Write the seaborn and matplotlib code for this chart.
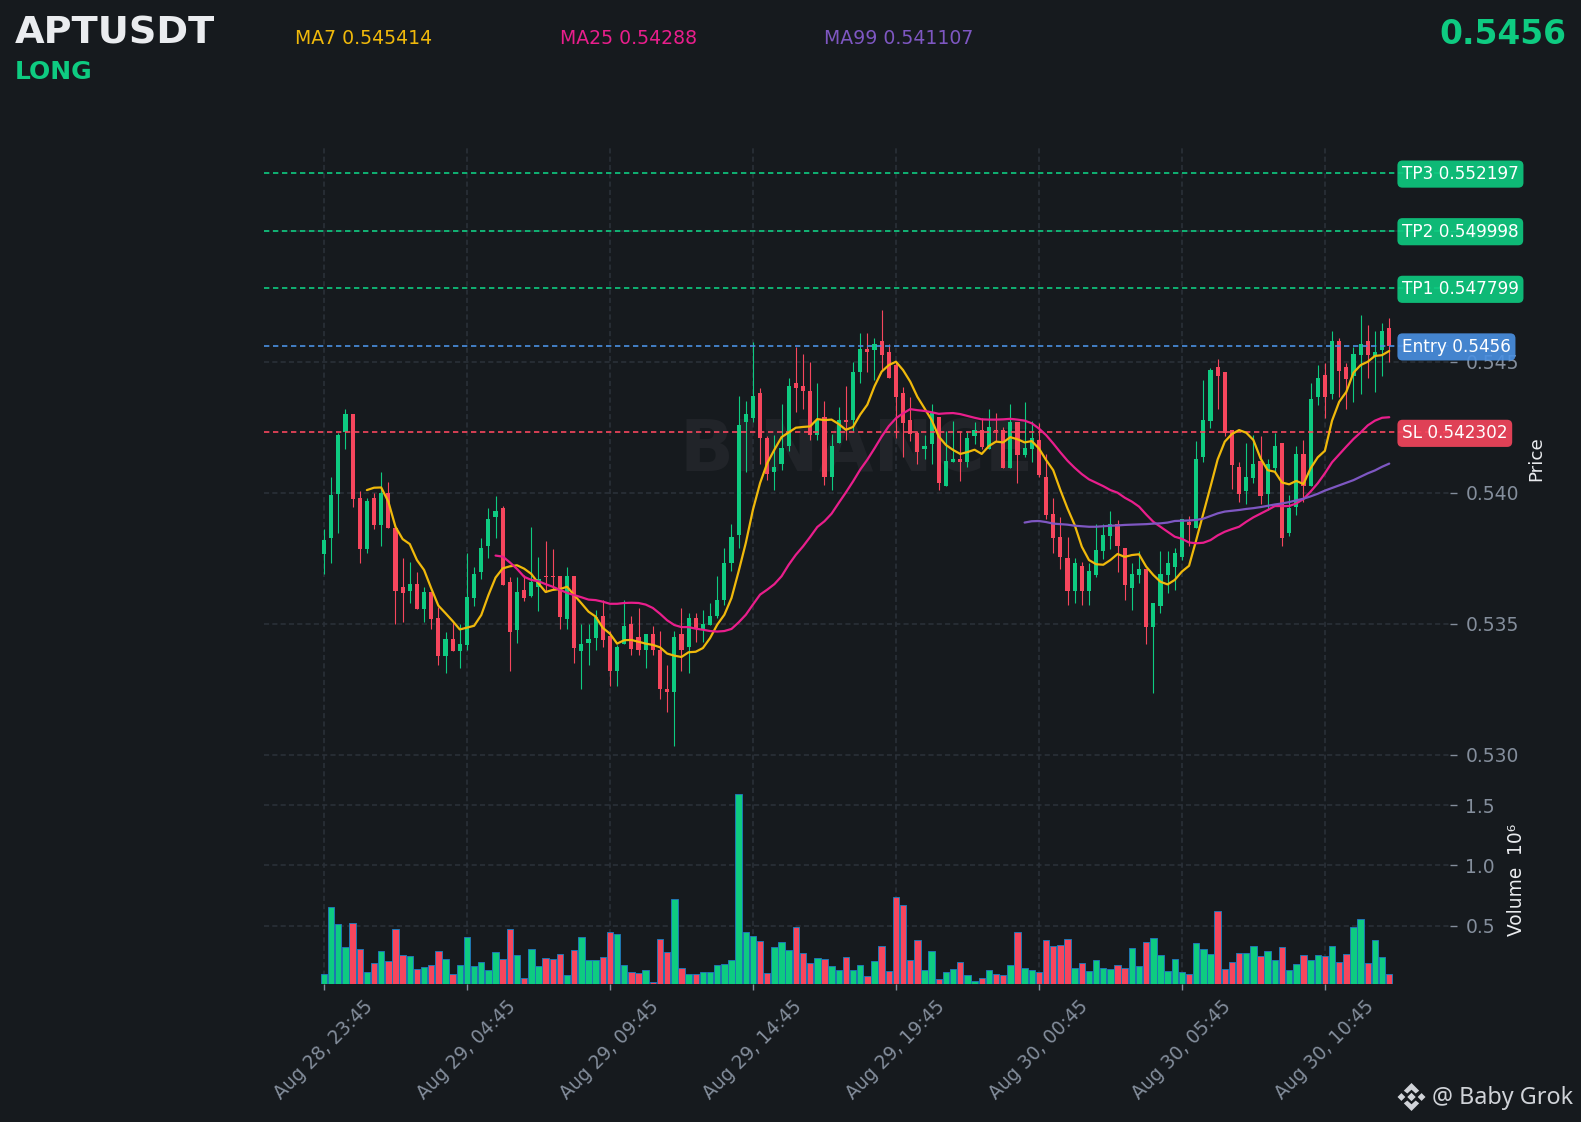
import matplotlib
matplotlib.use("Agg")
import matplotlib.pyplot as plt
from matplotlib.patches import Polygon
from matplotlib.transforms import blended_transform_factory
import numpy as np
import pandas as pd
import seaborn as sns

# prices are in units of 1e-5 USDT, volume in millions
open_px = [53767, 53828, 53996, 54232, 54300, 53980, 53786, 53980, 53878, 53999,
           53866, 53640, 53626, 53651, 53557, 53621, 53522, 53378, 53442, 53397,
           53420, 53599, 53699, 53798, 53908, 53941, 53659, 53477, 53629, 53607,
           53641, 53681, 53681, 53682, 53519, 53682, 53397, 53428, 53447, 53531,
           53452, 53318, 53421, 53500, 53450, 53398, 53462, 53401, 53252, 53238,
           53462, 53410, 53522, 53481, 53496, 53528, 53589, 53730, 53837, 54268,
           54287, 54382, 54210, 54078, 54108, 54177, 54420, 54408, 54389, 54219,
           54289, 54059, 54188, 54279, 54276, 54459, 54549, 54546, 54579, 54537,
           54487, 54379, 54277, 54226, 54167, 54186, 54290, 54027, 54118, 54128,
           54117, 54218, 54239, 54167, 54239, 54239, 54095, 54270, 54144, 54168,
           54201, 54060, 53919, 53831, 53751, 53625, 53720, 53625, 53686, 53779,
           53836, 53880, 53789, 53637, 53686, 53707, 53489, 53569, 53686, 53716,
           53755, 53889, 53866, 54137, 54275, 54480, 54460, 54239, 54098, 54006,
           54057, 54121, 53996, 54094, 54190, 53847, 53945, 54148, 54027, 54365,
           54449, 54377, 54579, 54480, 54445, 54525, 54579, 54522, 54544, 54627]
high_px = [53860, 54059, 54226, 54319, 54300, 54008, 53978, 53997, 54078, 54039,
           53877, 53749, 53737, 53699, 53639, 53621, 53565, 53470, 53505, 53498,
           53768, 53718, 53828, 53940, 53989, 53949, 53679, 53679, 53686, 53868,
           53756, 53817, 53786, 53682, 53718, 53682, 53498, 53498, 53552, 53589,
           53471, 53420, 53589, 53528, 53560, 53462, 53490, 53471, 53344, 53471,
           53560, 53541, 53541, 53551, 53579, 53681, 53789, 53879, 54370, 54349,
           54577, 54398, 54215, 54220, 54338, 54438, 54558, 54530, 54499, 54418,
           54350, 54225, 54329, 54408, 54499, 54609, 54609, 54590, 54697, 54567,
           54500, 54404, 54366, 54237, 54220, 54337, 54290, 54237, 54275, 54237,
           54237, 54268, 54287, 54318, 54305, 54249, 54337, 54270, 54347, 54275,
           54267, 54146, 53978, 53908, 53830, 53749, 53737, 53730, 53880, 53880,
           53929, 53896, 53789, 53730, 53779, 53707, 53578, 53779, 53779, 53788,
           53900, 53911, 54198, 54430, 54477, 54509, 54460, 54239, 54118, 54188,
           54220, 54218, 54128, 54226, 54190, 53990, 54178, 54201, 54417, 54486,
           54496, 54616, 54589, 54496, 54557, 54678, 54639, 54616, 54646, 54665]
low_px = [53688, 53730, 53847, 54168, 53947, 53730, 53768, 53860, 53798, 53866,
          53498, 53508, 53578, 53557, 53508, 53478, 53341, 53311, 53396, 53330,
          53398, 53569, 53669, 53749, 53828, 53648, 53318, 53428, 53588, 53601,
          53550, 53622, 53629, 53478, 53478, 53349, 53250, 53341, 53398, 53411,
          53261, 53261, 53421, 53379, 53379, 53331, 53379, 53213, 53163, 53032,
          53318, 53312, 53430, 53430, 53496, 53522, 53570, 53700, 53789, 54079,
          54268, 54109, 54047, 54009, 54088, 54158, 54308, 54319, 54202, 54200,
          54028, 54009, 54188, 54200, 54234, 54418, 54459, 54429, 54468, 54436,
          54207, 54137, 54198, 54108, 54127, 54108, 54009, 54027, 54118, 54046,
          54097, 54186, 54167, 54167, 54195, 54095, 54095, 54038, 54137, 54118,
          54059, 53898, 53768, 53707, 53570, 53578, 53570, 53570, 53679, 53748,
          53786, 53699, 53589, 53551, 53657, 53421, 53237, 53540, 53618, 53629,
          53743, 53798, 53866, 54118, 54248, 54318, 54218, 54014, 53966, 53958,
          54038, 53958, 53934, 54074, 53798, 53836, 53915, 53966, 54027, 54335,
          54287, 54356, 54366, 54318, 54347, 54377, 54436, 54385, 54446, 54497]
close_px = [53819, 53991, 54220, 54300, 53977, 53786, 53968, 53878, 53999, 53866,
            53626, 53618, 53651, 53557, 53621, 53519, 53378, 53440, 53397, 53423,
            53601, 53690, 53789, 53900, 53930, 53649, 53470, 53621, 53598, 53659,
            53669, 53678, 53678, 53527, 53682, 53409, 53423, 53442, 53527, 53439,
            53318, 53412, 53492, 53405, 53398, 53462, 53398, 53250, 53238, 53450,
            53398, 53522, 53481, 53500, 53531, 53592, 53733, 53832, 54259, 54301,
            54370, 54207, 54070, 54099, 54172, 54408, 54398, 54387, 54219, 54279,
            54059, 54179, 54279, 54268, 54462, 54549, 54536, 54569, 54525, 54436,
            54366, 54267, 54224, 54156, 54179, 54309, 54038, 54121, 54128, 54118,
            54209, 54239, 54174, 54251, 54236, 54095, 54270, 54144, 54170, 54209,
            54067, 53915, 53828, 53756, 53625, 53730, 53625, 53701, 53781, 53838,
            53880, 53796, 53648, 53690, 53707, 53489, 53578, 53690, 53730, 53770,
            53900, 53877, 54128, 54277, 54468, 54445, 54226, 54106, 53995, 54060,
            54109, 53989, 54109, 54178, 53828, 53941, 54148, 54027, 54357, 54438,
            54365, 54579, 54466, 54434, 54529, 54567, 54525, 54537, 54617, 54560]
volume_m = [0.097, 0.657, 0.511, 0.320, 0.525, 0.309, 0.113, 0.193, 0.293, 0.210,
            0.475, 0.260, 0.251, 0.144, 0.155, 0.177, 0.293, 0.227, 0.102, 0.177,
            0.409, 0.169, 0.202, 0.135, 0.285, 0.227, 0.475, 0.260, 0.069, 0.309,
            0.169, 0.235, 0.227, 0.268, 0.094, 0.301, 0.409, 0.218, 0.218, 0.243,
            0.450, 0.434, 0.177, 0.119, 0.110, 0.135, 0.036, 0.392, 0.285, 0.718,
            0.152, 0.102, 0.102, 0.119, 0.119, 0.177, 0.185, 0.218, 1.588, 0.450,
            0.417, 0.376, 0.110, 0.326, 0.367, 0.301, 0.492, 0.276, 0.193, 0.235,
            0.227, 0.169, 0.130, 0.243, 0.130, 0.177, 0.086, 0.210, 0.334, 0.127,
            0.735, 0.674, 0.218, 0.384, 0.135, 0.293, 0.061, 0.113, 0.144, 0.202,
            0.094, 0.044, 0.069, 0.135, 0.102, 0.094, 0.177, 0.450, 0.152, 0.135,
            0.119, 0.384, 0.334, 0.343, 0.392, 0.152, 0.193, 0.127, 0.218, 0.152,
            0.144, 0.177, 0.152, 0.318, 0.169, 0.367, 0.401, 0.260, 0.127, 0.227,
            0.119, 0.102, 0.359, 0.309, 0.268, 0.624, 0.144, 0.202, 0.276, 0.276,
            0.334, 0.251, 0.293, 0.218, 0.326, 0.135, 0.185, 0.260, 0.218, 0.260,
            0.251, 0.334, 0.202, 0.268, 0.492, 0.558, 0.193, 0.384, 0.243, 0.102]
ma7 = [54010, 54019, 54020, 53966, 53870, 53823, 53804, 53743, 53705, 53635,
       53569, 53540, 53510, 53478, 53485, 53492, 53533, 53609, 53676, 53711,
       53719, 53723, 53710, 53690, 53654, 53621, 53629, 53632, 53641, 53609,
       53578, 53546, 53527, 53484, 53462, 53424, 53437, 53438, 53431, 53424,
       53419, 53410, 53386, 53378, 53373, 53391, 53393, 53407, 53445, 53496,
       53534, 53598, 53700, 53808, 53935, 54037, 54113, 54164, 54212, 54230,
       54248, 54251, 54253, 54281, 54277, 54279, 54262, 54240, 54251, 54298,
       54336, 54406, 54462, 54487, 54500, 54468, 54424, 54366, 54322, 54277,
       54214, 54182, 54163, 54148, 54155, 54164, 54148, 54178, 54195, 54192,
       54212, 54204, 54192, 54197, 54169, 54125, 54086, 54010, 53940, 53877,
       53794, 53743, 53727, 53725, 53743, 53766, 53755, 53762, 53765, 53718,
       53686, 53660, 53650, 53667, 53699, 53721, 53819, 53921, 54023, 54127,
       54195, 54224, 54239, 54229, 54201, 54131, 54086, 54080, 54039, 54032,
       54045, 54033, 54093, 54135, 54160, 54275, 54347, 54385, 54458, 54487,
       54500, 54522, 54525, 54541]
ma25 = [53760, 53756, 53734, 53709, 53679, 53667, 53662, 53651, 53641, 53629,
        53618, 53609, 53601, 53592, 53590, 53584, 53576, 53576, 53579, 53580,
        53579, 53573, 53560, 53538, 53513, 53495, 53487, 53487, 53481, 53477,
        53472, 53470, 53472, 53480, 53505, 53534, 53573, 53611, 53630, 53651,
        53681, 53725, 53763, 53795, 53831, 53869, 53891, 53920, 53961, 54001,
        54043, 54088, 54126, 54169, 54214, 54254, 54284, 54303, 54319, 54315,
        54312, 54307, 54301, 54303, 54304, 54300, 54293, 54286, 54280, 54279,
        54279, 54280, 54282, 54279, 54275, 54265, 54245, 54220, 54188, 54154,
        54122, 54095, 54071, 54051, 54038, 54025, 54010, 54000, 53981, 53966,
        53947, 53917, 53889, 53870, 53851, 53832, 53824, 53810, 53807, 53809,
        53819, 53837, 53851, 53861, 53870, 53889, 53906, 53920, 53934, 53949,
        53949, 53949, 53959, 53976, 54004, 54036, 54074, 54116, 54146, 54176,
        54205, 54230, 54257, 54275, 54286, 54288]
ma99 = [53886, 53891, 53892, 53888, 53882, 53880, 53878, 53874, 53872, 53870,
        53870, 53872, 53874, 53875, 53877, 53878, 53879, 53880, 53882, 53883,
        53886, 53892, 53893, 53894, 53896, 53901, 53911, 53921, 53928, 53931,
        53934, 53938, 53941, 53945, 53950, 53955, 53959, 53964, 53971, 53977,
        53986, 53996, 54008, 54018, 54028, 54038, 54048, 54061, 54074, 54085,
        54099, 54111]

level_names = ["TP3 0.552197", "TP2 0.549998", "TP1 0.547799", "Entry 0.5456", "SL 0.542302"]
level_values = [0.552197, 0.549998, 0.547799, 0.5456, 0.542302]
price_ticks = [0.530, 0.535, 0.540, 0.545, 0.550]
volume_ticks = [0.5, 1.0, 1.5]
time_ticks = [0, 20, 40, 60, 80, 100, 120, 140]
time_labels = ["Aug 28, 23:45", "Aug 29, 04:45", "Aug 29, 09:45", "Aug 29, 14:45",
               "Aug 29, 19:45", "Aug 30, 00:45", "Aug 30, 05:45", "Aug 30, 10:45"]

BG = "#161a1e"
GRID = "#2b3139"
GREEN = "#0ecb81"
RED = "#f6465d"
BLUE = "#4a90e2"
GREY = "#848e9c"
GOLD = "#f0b90b"
PINK = "#e91e8c"
PURPLE = "#7e57c2"
W, H = 1581, 1122

sns.set_theme(style="dark", rc={"figure.facecolor": BG, "axes.facecolor": BG, "savefig.facecolor": BG})
plt.rcParams["font.family"] = "DejaVu Sans"


def fx(px):
    return px / W


def fy(py):
    return 1 - py / H


idx = np.arange(len(close_px))
o, h, l, c = [np.array(a) / 1e5 for a in (open_px, high_px, low_px, close_px)]
up = c >= o
colors = np.where(up, GREEN, RED)

fig = plt.figure(figsize=(W / 100, H / 100), dpi=100)
ax = fig.add_axes([fx(264), fy(984), (1450 - 264) / W, (984 - 148) / H], zorder=2)
ax_vol = fig.add_axes([fx(264), fy(984), (1450 - 264) / W, (984 - 790) / H], zorder=3)
ax.patch.set_visible(False)
ax_vol.patch.set_visible(False)

fig.text(fx(857), fy(452), "BINANCE", fontsize=51, fontweight="bold", color="#212429",
         ha="center", va="center", zorder=1)

# candles
ax.vlines(idx, l, h, colors=colors, linewidth=0.8, zorder=2)
ax.bar(idx, np.abs(c - o), bottom=np.minimum(o, c), width=0.58, color=colors, linewidth=0, zorder=2.1)

# moving averages
for values, colour in ((ma7, GOLD), (ma25, PINK), (ma99, PURPLE)):
    sns.lineplot(x=idx[-len(values):], y=np.array(values) / 1e5, color=colour, linewidth=1.6,
                 ax=ax, zorder=3)

# trade levels
level_colors = [GREEN, GREEN, GREEN, BLUE, RED]
to_label = blended_transform_factory(ax.transAxes, ax.transData)
for name, value, colour in zip(level_names, level_values, level_colors):
    ax.axhline(value, color=colour, linewidth=1.2, linestyle=(0, (3.2, 2.2)), zorder=2.5)
    ax.text((1402 - 264) / (1450 - 264), value + 0.00004, name, transform=to_label, fontsize=12.2,
            color="white", va="center_baseline", ha="left", zorder=10, clip_on=False,
            bbox=dict(boxstyle="round,pad=0.27,rounding_size=0.3", fc=colour, ec="none", alpha=0.9))

ax.set_xlim(-8.39, 157.5)
ax.set_ylim(0.545 - (984 - 361.7) / 26200, 0.545 + (361.7 - 148) / 26200)
ax.yaxis.tick_right()
ax.set_yticks(price_ticks, [f"{t:.3f}" for t in price_ticks])
ax.set_xticks(time_ticks, time_labels, rotation=45, ha="center", va="top")
ax.tick_params(axis="y", colors=GREY, labelsize=13.5, length=5, width=1, pad=6, right=True)
ax.tick_params(axis="x", colors=GREY, labelsize=13.4, length=4.5, width=1, pad=5, bottom=True)
ax.grid(True, color=GRID, linewidth=1.15, linestyle=(0, (3.2, 2)))
ax.set_axisbelow(True)
sns.despine(ax=ax, left=True, right=True, top=True, bottom=True)

# volume panel
vol = pd.DataFrame({"i": idx, "volume": volume_m, "side": np.where(up, "up", "down")})
sns.barplot(vol, x="i", y="volume", hue="side", palette={"up": GREEN, "down": RED},
            native_scale=True, dodge=False, width=0.9, saturation=1, edgecolor="#1f77b4",
            linewidth=0.7, legend=False, ax=ax_vol)
ax_vol.set_xlim(ax.get_xlim())
ax_vol.set_ylim(0.5 - (984 - 925.7) / 120.6, 0.5 + (925.7 - 790) / 120.6)
ax_vol.yaxis.tick_right()
ax_vol.set_yticks(volume_ticks, [f"{t:.1f}" for t in volume_ticks])
ax_vol.set_xticks([])
ax_vol.set_xlabel("")
ax_vol.set_ylabel("")
ax_vol.tick_params(axis="y", colors=GREY, labelsize=13.5, length=5, width=1, pad=6, right=True)
ax_vol.grid(True, axis="y", color=GRID, linewidth=1.15, linestyle=(0, (3.2, 2)))
ax_vol.set_axisbelow(True)
sns.despine(ax=ax_vol, left=True, right=True, top=True, bottom=True)

# axis titles
fig.text(fx(1536), fy(459), "Price", rotation=90, color="#eaecef", fontsize=13.2, ha="center", va="center")
fig.text(fx(1517), fy(880), "Volume  10\u2076", rotation=90, color="#eaecef", fontsize=13.4, ha="center", va="center")

# header
fig.text(fx(15), fy(33), "APTUSDT", fontsize=27.5, fontweight="bold", color="#eaecef", va="center")
fig.text(fx(15), fy(72), "LONG", fontsize=18, fontweight="bold", color=GREEN, va="center")
fig.text(fx(1566), fy(34), "0.5456", fontsize=23.7, fontweight="bold", color=GREEN, va="center", ha="right")
fig.text(fx(295), fy(38), "MA7 0.545414", fontsize=13.55, color=GOLD, va="center")
fig.text(fx(560), fy(38), "MA25 0.54288", fontsize=13.55, color=PINK, va="center")
fig.text(fx(824), fy(38), "MA99 0.541107", fontsize=13.55, color=PURPLE, va="center")

# footer mark
mark = "#d0d3d8"
cx, cy, s = 1411.5, 1097, 14
shapes = [
    [(0, -0.3), (0.3, 0), (0, 0.3), (-0.3, 0)],
    [(-1, 0), (-0.72, -0.28), (-0.44, 0), (-0.72, 0.28)],
    [(1, 0), (0.72, -0.28), (0.44, 0), (0.72, 0.28)],
    [(0, -1), (0.55, -0.45), (0.3, -0.25), (0, -0.52), (-0.3, -0.25), (-0.55, -0.45)],
    [(0, 1), (0.55, 0.45), (0.3, 0.25), (0, 0.52), (-0.3, 0.25), (-0.55, 0.45)],
]
for shape in shapes:
    pts = [(fx(cx + a * s), fy(cy + b * s)) for a, b in shape]
    fig.add_artist(Polygon(pts, closed=True, transform=fig.transFigure, fc=mark, ec="none"))
fig.text(fx(1432), fy(1098), "@ Baby Grok", fontsize=16.8, color=mark, family="Noto Sans", va="center")

fig.savefig("out.png", dpi=100, facecolor=BG)
